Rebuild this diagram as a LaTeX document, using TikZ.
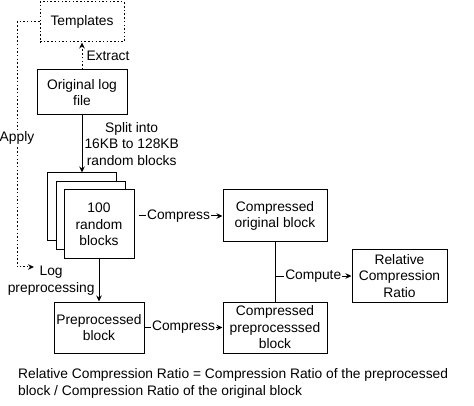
\documentclass[tikz,border=0pt]{standalone}
\usepackage{fontspec}
\setmainfont{Liberation Sans}
\usetikzlibrary{arrows.meta}
\begin{document}
\begin{tikzpicture}[x=1pt,y=-1pt,
  font=\fontsize{13.8}{16.5}\selectfont,
  box/.style={draw, line width=1pt, align=center, inner sep=0pt, fill=white},
  arr/.style={-{Stealth[length=6pt,width=5.5pt]}, line width=1pt},
  plain/.style={line width=1pt},
  dots/.style={dash pattern=on 1.5pt off 2.2pt},
  lab/.style={fill=white, inner sep=1pt}]
\useasboundingbox (0,0) rectangle (474,406);
% nodes
\node[box, dots, minimum width=84pt, minimum height=40pt] (tpl) at (82,22) {Templates};
\node[box, minimum width=90pt, minimum height=45pt] (orig) at (82,92.5) {Original log\\file};
\node[box, minimum width=69pt, minimum height=68pt] (back) at (81.5,207) {};
\node[box, minimum width=69pt, minimum height=68pt] (mid) at (90.5,216) {};
\node[box, minimum width=70pt, minimum height=69pt] (front) at (99,224.5) {100\\random\\blocks};
\node[box, minimum width=104pt, minimum height=52pt] (co) at (275,216) {Compressed\\original block};
\node[box, minimum width=95pt, minimum height=52pt] (rcr) at (399.5,276) {Relative\\Compression\\Ratio};
\node[box, minimum width=104pt, minimum height=51pt] (cp) at (275,327.5) {Compressed\\preprocesssed\\block};
\node[box, minimum width=90pt, minimum height=51pt] (pb) at (99,327.5) {Preprocessed\\block};
\node[anchor=west, align=left, inner sep=0pt] (cap) at (18,383.5) {Relative Compression Ratio = Compression Ratio of the preprocessed\\block / Compression Ratio of the original block};
% connectors
\draw[arr, dots] (orig.north) -- node[right, inner sep=4pt] {Extract} (tpl.south);
\draw[arr] (orig.south) -- node[right, inner sep=2pt, align=center] {Split into\\16KB to 128KB\\random blocks} (orig.south |- back.north);
\coordinate (a1) at (17,22);
\coordinate (a2) at (17,267);
\coordinate (a3) at (34,267);
\draw[arr, dots] (tpl.west) -- (a1) -- node[lab, pos=0.473] {Apply} (a2) -- (a3);
\draw[arr, shorten <=4pt] (front.east |- co.west) -- node[lab] {Compress} (co.west);
\draw[arr] (front.south) -- node[left, align=center, inner sep=4pt] {Log\\preprocessing} (pb.north);
\draw[arr] (pb.east) -- node[lab] {Compress} (cp.west);
\draw[plain] (co.south) -- (cp.north);
\draw[arr] (co.south |- rcr.west) -- node[lab] {Compute} (rcr.west);
\end{tikzpicture}
\end{document}
